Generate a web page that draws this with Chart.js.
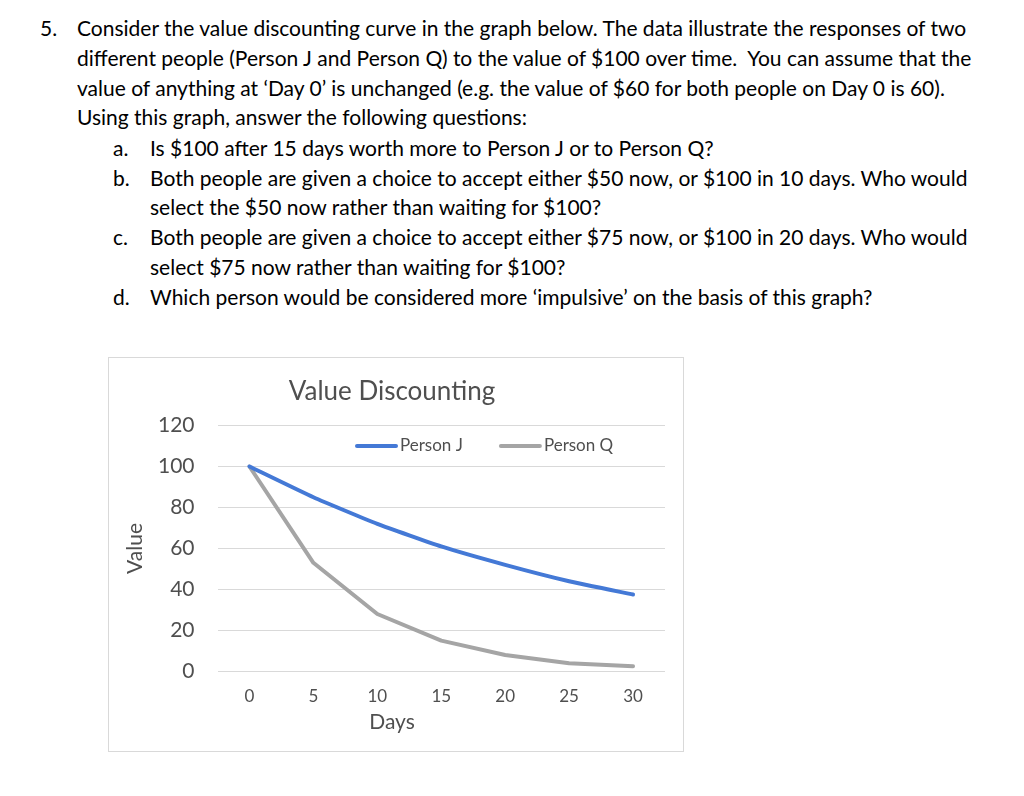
<!DOCTYPE html>
<html>
<head>
<meta charset="utf-8">
<script src="https://cdn.jsdelivr.net/npm/chart.js@4"></script>
<style>
    body { margin: 0; background: #fff; width: 1024px; height: 796px; position: relative; overflow: hidden; }
    .q { position: absolute; font-family: Lato, sans-serif; font-size: 21px; line-height: 22px; color: #000; white-space: nowrap; }
    #box { position: absolute; left: 108px; top: 357px; width: 574px; height: 393px; border: 1px solid #d9d9d9; }
</style>
</head>
<body>
<div class="q" style="left:40px;top:17px">5.</div>
<div class="q" style="left:77px;top:17px">Consider the value discounting curve in the graph below. The data illustrate the responses of two</div>
<div class="q" style="left:77px;top:47px">different people (Person J and Person Q) to the value of $100 over time.&nbsp; You can assume that the</div>
<div class="q" style="left:77px;top:77px">value of anything at ‘Day 0’ is unchanged (e.g. the value of $60 for both people on Day 0 is 60).</div>
<div class="q" style="left:77px;top:106px">Using this graph, answer the following questions:</div>
<div class="q" style="left:113px;top:137px">a.</div>
<div class="q" style="left:150px;top:137px">Is $100 after 15 days worth more to Person J or to Person Q?</div>
<div class="q" style="left:113px;top:167px">b.</div>
<div class="q" style="left:150px;top:167px">Both people are given a choice to accept either $50 now, or $100 in 10 days. Who would</div>
<div class="q" style="left:150px;top:196px">select the $50 now rather than waiting for $100?</div>
<div class="q" style="left:113px;top:226px">c.</div>
<div class="q" style="left:150px;top:226px">Both people are given a choice to accept either $75 now, or $100 in 20 days. Who would</div>
<div class="q" style="left:150px;top:256px">select $75 now rather than waiting for $100?</div>
<div class="q" style="left:113px;top:286px">d.</div>
<div class="q" style="left:150px;top:286px">Which person would be considered more ‘impulsive’ on the basis of this graph?</div>

<div id="box"><canvas id="discountChart"></canvas></div>

<script>
    const days = ['0', '5', '10', '15', '20', '25', '30'];
    const personJ = [100, 85, 72, 61, 52, 44, 37.5];
    const personQ = [100, 53, 28, 15, 8, 4, 2.5];

    const textColor = '#4f4f4f';
    const font = 'Lato, sans-serif';

    // Excel-style legend: one row inside the plot, line swatch + label
    const insideLegend = {
        id: 'insideLegend',
        afterDraw(chart, args, opts) {
            const ctx = chart.ctx;
            ctx.save();
            ctx.font = opts.size + 'px ' + font;
            ctx.textBaseline = 'middle';
            ctx.lineCap = 'round';
            let x = opts.x;
            chart.data.datasets.forEach(ds => {
                ctx.strokeStyle = ds.borderColor;
                ctx.lineWidth = ds.borderWidth;
                ctx.beginPath();
                ctx.moveTo(x + 2, opts.y);
                ctx.lineTo(x + opts.lineLen - 2, opts.y);
                ctx.stroke();
                x += opts.lineLen + 2;
                ctx.fillStyle = textColor;
                ctx.fillText(ds.label, x, opts.y);
                x += ctx.measureText(ds.label).width + opts.gap;
            });
            ctx.restore();
        }
    };

    new Chart(document.getElementById('discountChart'), {
        type: 'line',
        data: {
            labels: days,
            datasets: [{
                label: 'Person J',
                data: personJ,
                borderColor: '#4479d6',
                backgroundColor: '#4479d6',
                borderWidth: 4,
                pointRadius: 0,
                tension: 0.15,
                borderCapStyle: 'round',
                borderJoinStyle: 'round'
            }, {
                label: 'Person Q',
                data: personQ,
                borderColor: '#a5a5a5',
                backgroundColor: '#a5a5a5',
                borderWidth: 4,
                pointRadius: 0,
                tension: 0,
                borderCapStyle: 'round',
                borderJoinStyle: 'round'
            }]
        },
        options: {
            responsive: true,
            maintainAspectRatio: false,
            animation: false,
            layout: { padding: { top: 5, left: 10, right: 18, bottom: 0 } },
            plugins: {
                title: {
                    display: true,
                    text: 'Value Discounting',
                    color: textColor,
                    font: { family: font, size: 26, weight: 'normal' },
                    padding: { top: 13.4, bottom: 17.9 }
                },
                subtitle: {
                    display: true,
                    position: 'bottom',
                    text: 'Days',
                    color: textColor,
                    font: { family: font, size: 21, weight: 'normal' },
                    padding: { top: 4, bottom: 16.4 }
                },
                legend: { display: false },
                insideLegend: { x: 246, y: 88, lineLen: 43, gap: 36, size: 17 },
                tooltip: { enabled: false }
            },
            scales: {
                x: {
                    offset: true,
                    grid: { display: false, drawTicks: false },
                    border: { display: false },
                    ticks: { color: textColor, font: { family: font, size: 17 }, padding: 15, maxRotation: 0 },
                    afterFit: scale => { scale.height = 34; }
                },
                y: {
                    min: 0,
                    max: 120,
                    ticks: { stepSize: 20, color: textColor, font: { family: font, size: 21 }, padding: 23 },
                    grid: { color: '#d9d9d9', drawTicks: false },
                    border: { display: false },
                    title: {
                        display: true,
                        text: 'Value',
                        color: textColor,
                        font: { family: font, size: 21 }
                    },
                    afterFit: scale => { scale.width = 98.5; }
                }
            }
        },
        plugins: [insideLegend]
    });
</script>
</body>
</html>
